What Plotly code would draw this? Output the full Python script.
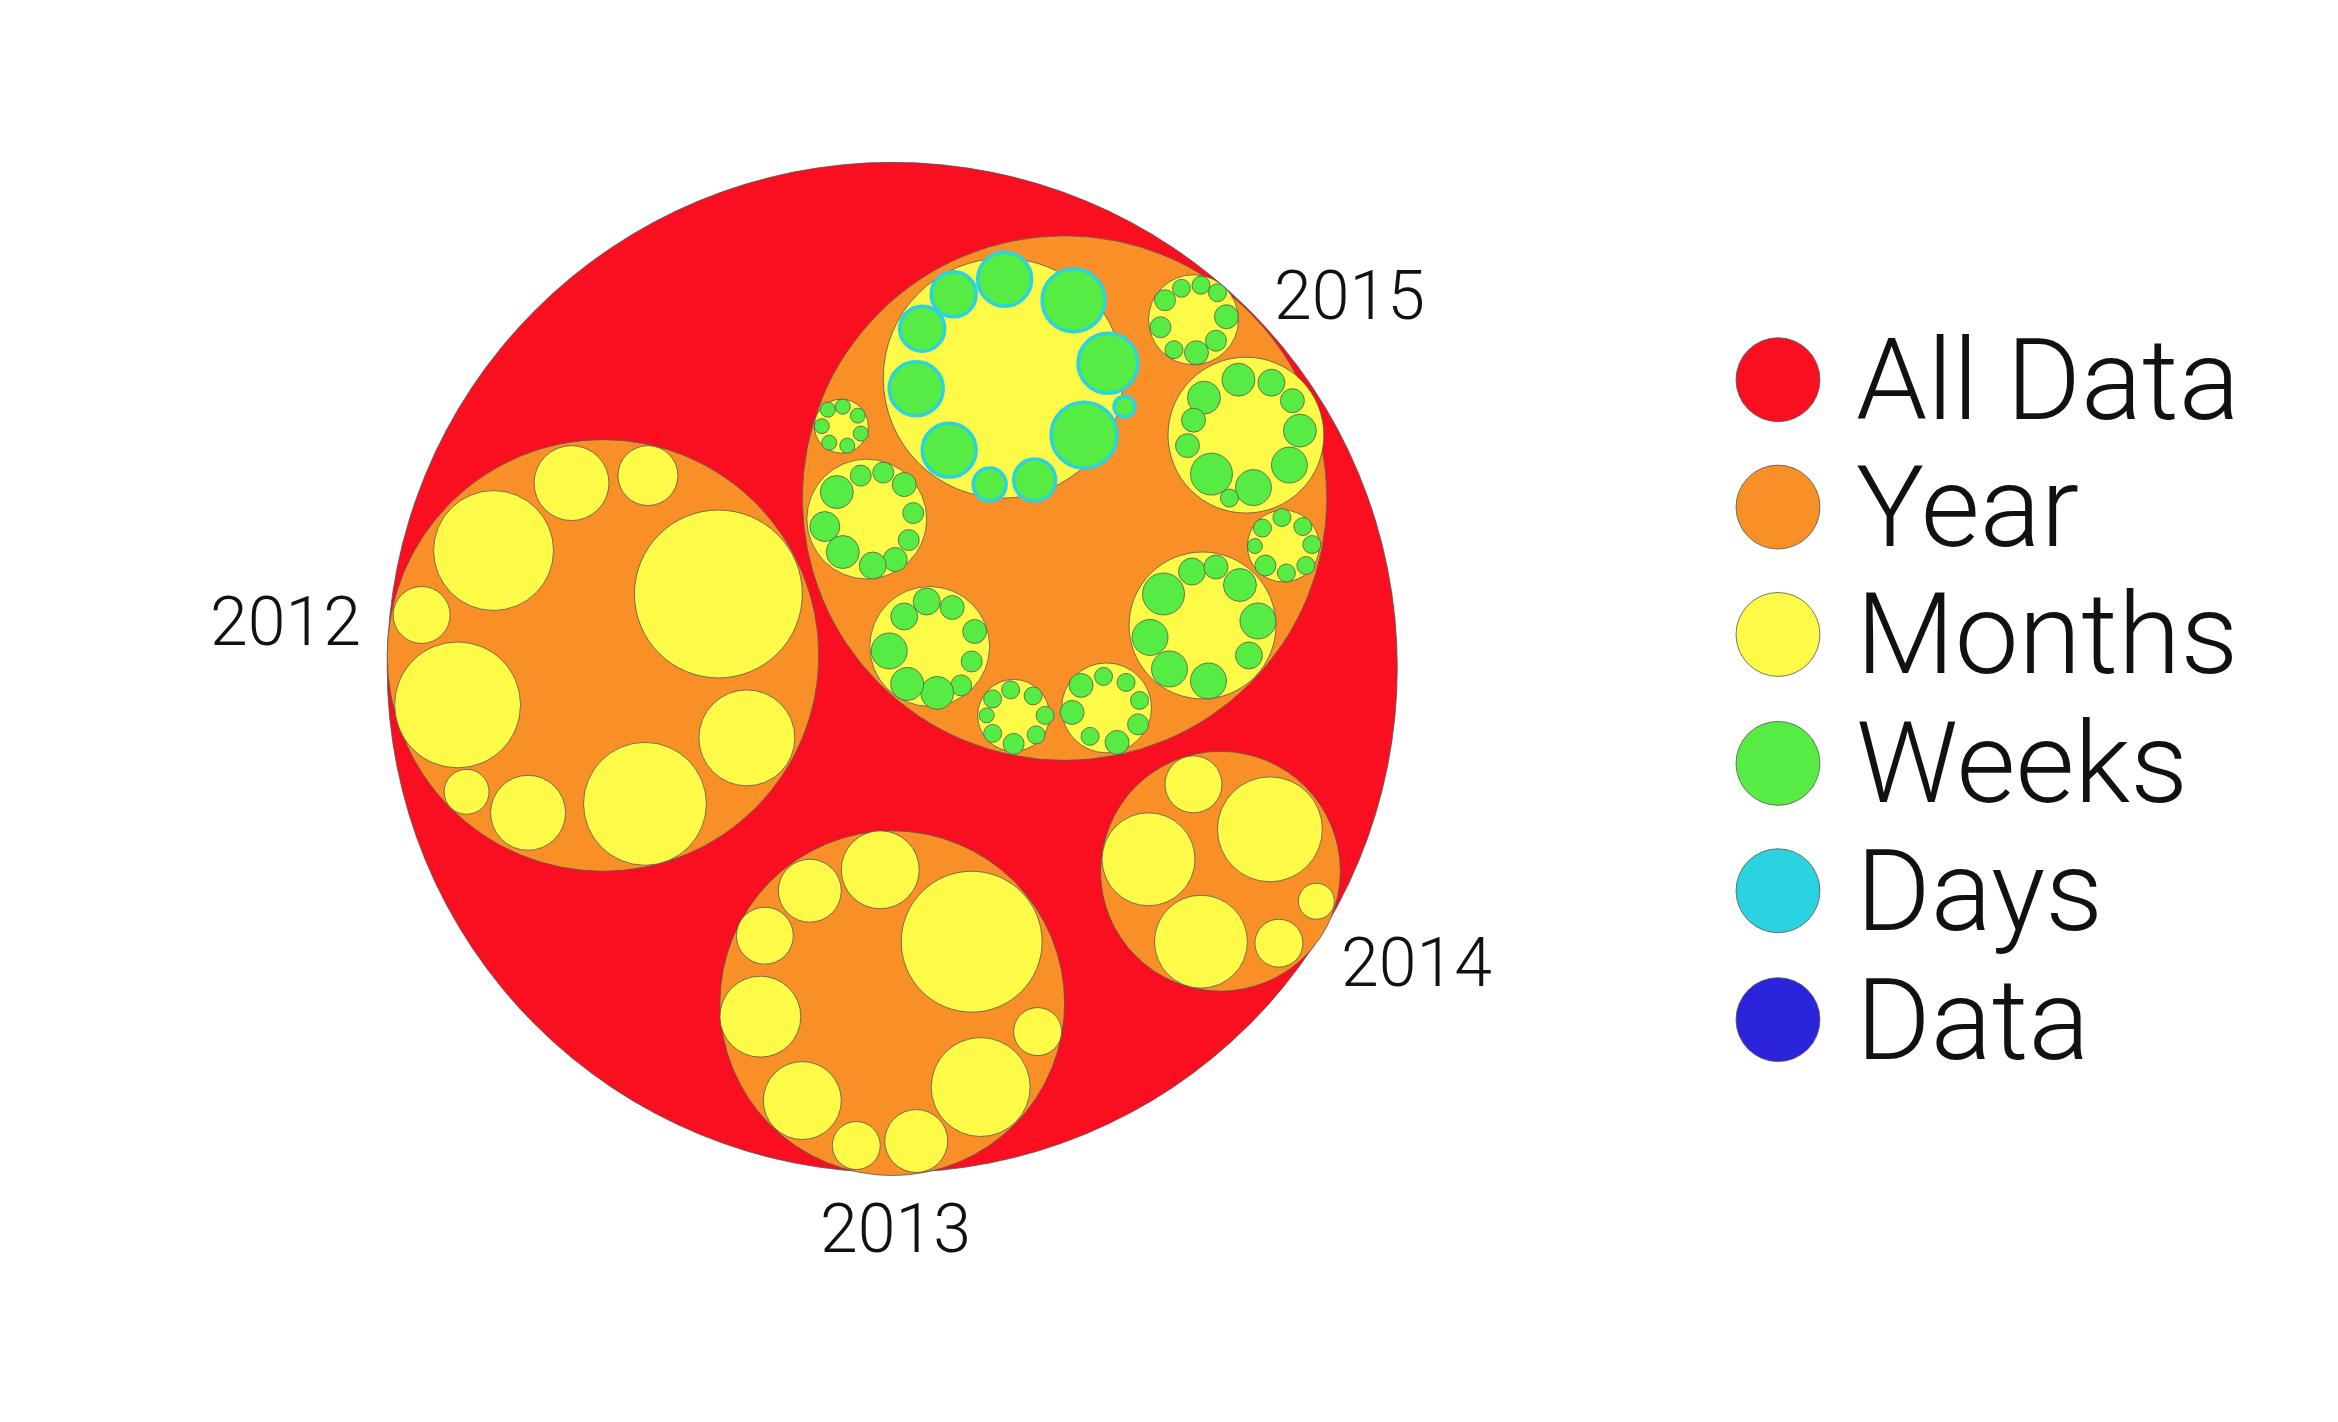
import plotly.graph_objects as go

W, H = 2338, 1422
S = W / 1560.0  # reference drawn on a 1560-wide grid

# circle packing (centre x, centre y, radius) on the 1560 grid
all_data = [(590, 440, 337)]

years = ["2012", "2013", "2014", "2015"]
year_circles = [(397, 432, 144), (590, 664, 115), (809, 576, 80), (705, 327, 175)]
year_label_pos = [(185, 410), (592, 815), (940, 637), (895, 192)]

months = [
    # 2012
    (474, 391, 56), (324, 362, 40), (376, 317, 25), (427, 312, 20), (276, 405, 19),
    (300, 465, 42), (306, 523, 15), (347, 537, 25), (425, 531, 41), (493, 487, 32),
    # 2013
    (643, 623, 47), (582, 575, 26), (535, 589, 21), (505, 619, 19), (502, 673, 27),
    (530, 729, 26), (566, 759, 16), (606, 756, 21), (649, 720, 33), (687, 683, 16),
    # 2014
    (842, 548, 35), (791, 518, 19), (761, 568, 31), (796, 623, 31), (848, 624, 16), (873, 596, 12),
    # 2015
    (664, 247, 80), (791, 208, 30), (826, 285, 52), (556, 279, 18), (573, 341, 40),
    (851, 359, 24), (797, 412, 49), (615, 426, 40), (671, 472, 24), (733, 467, 30),
]

# weeks filled with days (big 2015 month)
weeks_with_days = [
    (665, 181, 18), (631, 191, 15), (610, 214, 15), (606, 254, 18), (628, 295, 18),
    (655, 318, 11), (685, 315, 14), (718, 285, 22), (734, 237, 20), (711, 195, 21),
    (745, 266, 7),
]

weeks = [
    (772, 195, 7), (783, 187, 6), (796, 185, 6), (807, 190, 6), (813, 206, 8),
    (806, 222, 7), (793, 230, 8), (778, 228, 6), (769, 213, 7),
    (798, 260, 11), (821, 248, 11), (843, 250, 9), (857, 262, 8), (862, 282, 11),
    (855, 305, 12), (831, 320, 12), (815, 327, 6), (803, 311, 14), (787, 292, 8), (791, 275, 8),
    (547, 268, 5), (557, 266, 5), (567, 272, 5), (569, 284, 5), (560, 292, 5), (548, 290, 5), (543, 279, 5),
    (553, 323, 11), (569, 312, 7), (584, 310, 7), (598, 318, 8), (604, 337, 7), (601, 355, 7),
    (592, 368, 8), (577, 372, 9), (557, 363, 11), (545, 346, 10),
    (837, 347, 6), (850, 340, 6), (864, 346, 6), (870, 358, 6), (866, 372, 6), (853, 377, 6),
    (839, 372, 7), (832, 359, 5),
    (771, 391, 14), (790, 376, 9), (806, 373, 8), (822, 385, 11), (834, 409, 12), (828, 432, 9),
    (801, 449, 12), (775, 441, 12), (762, 420, 12),
    (598, 406, 9), (613, 396, 9), (630, 400, 8), (645, 416, 8), (643, 436, 7), (636, 452, 7),
    (620, 457, 11), (600, 451, 11), (588, 429, 12),
    (657, 461, 6), (669, 455, 6), (684, 459, 6), (692, 472, 6), (686, 485, 6), (671, 491, 7),
    (657, 484, 6), (653, 472, 5),
    (716, 452, 8), (731, 446, 6), (746, 450, 6), (755, 462, 6), (754, 478, 7), (740, 490, 8),
    (722, 486, 6), (710, 470, 8),
]

legend_labels = ["All Data", "Year", "Months", "Weeks", "Days", "Data"]
legend_colors = ["#f90f1f", "#f99027", "#fdfb47", "#56ec44", "#2bd3e0", "#2b24dc"]
legend_y = [248, 333, 418, 504, 589, 675]

shapes = []


def add_circles(circles, fill, line="#555555", lw=0.8):
    for cx, cy, r in circles:
        shapes.append(dict(type="circle", xref="x", yref="y",
                           x0=cx - r, x1=cx + r, y0=cy - r, y1=cy + r,
                           fillcolor=fill, line=dict(color=line, width=lw)))


add_circles(all_data, legend_colors[0])
add_circles(year_circles, legend_colors[1])
add_circles(months, legend_colors[2])
add_circles(weeks, legend_colors[3])
add_circles(weeks_with_days, legend_colors[3], line=legend_colors[4], lw=3.5)
# legend swatches
add_circles([(1181, y, 28) for y in legend_y], None, lw=0.8)
for i, y in enumerate(legend_y):
    shapes[-len(legend_y) + i]["fillcolor"] = legend_colors[i]

annotations = []
for name, (x, y) in zip(years, year_label_pos):
    annotations.append(dict(x=x, y=y, xref="x", yref="y", text=name, showarrow=False,
                            xanchor="center", yanchor="middle",
                            font=dict(size=68, color="#111111", family="Roboto", weight=300)))
for name, y in zip(legend_labels, legend_y):
    annotations.append(dict(x=1232, y=y, xref="x", yref="y", text=name, showarrow=False,
                            xanchor="left", yanchor="middle",
                            font=dict(size=114, color="#111111", family="Roboto", weight=300)))

fig = go.Figure(go.Scatter(x=[0], y=[0], mode="markers", marker=dict(opacity=0), hoverinfo="skip"))
fig.update_layout(
    width=W, height=H,
    margin=dict(l=0, r=0, t=0, b=0),
    plot_bgcolor="white", paper_bgcolor="white",
    showlegend=False,
    shapes=shapes, annotations=annotations,
    xaxis=dict(range=[0, 1560], visible=False, fixedrange=True),
    yaxis=dict(range=[H / S, 0], visible=False, fixedrange=True),
)
fig.write_html("out.html")
